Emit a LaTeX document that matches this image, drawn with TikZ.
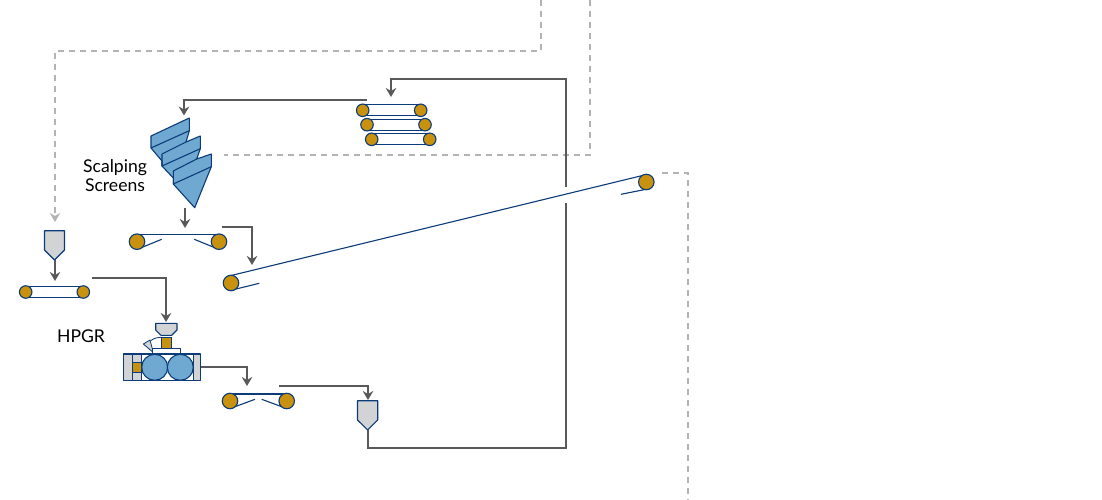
\documentclass[tikz,border=0pt]{standalone}
\usepackage{fontspec}
\setmainfont{Lato}
\usetikzlibrary{arrows.meta}
\definecolor{navy}{HTML}{0B3B78}
\definecolor{gold}{HTML}{C8920F}
\definecolor{skyb}{HTML}{6FA9D2}
\definecolor{binb}{HTML}{D2D3D5}
\definecolor{flow}{HTML}{58595B}
\definecolor{dash}{HTML}{B3B3B3}
\tikzset{
 flowline/.style={draw=flow,line width=2.1pt,-{Stealth[length=9pt,width=10.5pt,inset=3pt]}},
 flowplain/.style={draw=flow,line width=2.1pt},
 dashline/.style={draw=dash,line width=2.2pt,dash pattern=on 6pt off 5pt},
 dasharrow/.style={dashline,-{Stealth[length=9pt,width=10.5pt,inset=3pt]}},
 belt/.style={draw=navy,line width=1.1pt},
 roll/.style={circle,draw=navy,line width=1.1pt,fill=gold,inner sep=0pt},
 smallroll/.style={roll,minimum size=12.5pt},
 bigroll/.style={roll,minimum size=15.5pt},
 part/.style={draw=navy,line width=1.1pt,line join=round},
 label/.style={font=\fontsize{17.6}{19.5}\selectfont,align=center,text=black,inner sep=0pt},
}
\begin{document}
\begin{tikzpicture}[x=1pt,y=-1pt]
\useasboundingbox[fill=white] (0,0) rectangle (1102,500);

% free connector ends
\foreach \n/\x/\y in {d1a/541/0,d1b/541/51,d1c/55/51,d1d/55/222,
  d2a/590/0,d2b/590/155,d2c/224/155,
  d3a/662/173,d3b/688/173,d3c/688/500,
  fa/368/448,fb/566/448,fc/566/203,fd/566/187,fe/566/79,ff/391/79,fg/391/97,
  ga/367/100,gb/184/100,gc/184/115.5,
  ha/185/208,hb/185/228,
  ia/222/227,ib/252/227,ic/252/265,
  ja/92/278,jb/166/278,jc/166/322,
  ka/200.5/367,kb/247/367,kc/247/386,
  la/279/386,lb/368/386,lc/368/400,
  ma/55/260,mb/55/281}
  {\coordinate (\n) at (\x,\y);}

% dashed lines
\draw[dasharrow] (d1a) -- (d1b) -- (d1c) -- (d1d);
\draw[dashline] (d2a) -- (d2b) -- (d2c);
\draw[dashline] (d3a) -- (d3b) -- (d3c);

% flow lines
\draw[flowplain] (368,430) -- (fa) -- (fb) -- (fc);
\draw[flowline] (fd) -- (fe) -- (ff) -- (fg);
\draw[flowline] (ga) -- (gb) -- (gc);
\draw[flowline] (ha) -- (hb);
\draw[flowline] (ia) -- (ib) -- (ic);
\draw[flowline] (ja) -- (jb) -- (jc);
\draw[flowline] (ka) -- (kb) -- (kc);
\draw[flowline] (la) -- (lb) -- (lc);
\draw[flowline] (ma) -- (mb);

% top stacked conveyors
\foreach \a/\b/\y/\n in {362.7/420.7/110.3/t1,367/425/124.7/t2,371.7/429.7/139.3/t3}{
  \draw[belt] (\a,\y-5.6) -- (\b,\y-5.6) (\a,\y+5.6) -- (\b,\y+5.6);
  \node[smallroll] (\n l) at (\a,\y) {};
  \node[smallroll] (\n r) at (\b,\y) {};
}

% left conveyor
\draw[belt] (25.7,286.3) -- (83.3,286.3) (25.7,297.6) -- (83.3,297.6);
\node[smallroll] (cl) at (25.7,292) {};
\node[smallroll] (cr) at (83.3,292) {};

% screen conveyor
\draw[belt] (137,234.6) -- (219,234.6);
\draw[belt] (138.5,248.8) -- (161.7,239.3);
\draw[belt] (217.5,248.8) -- (194.3,239.3);
\node[bigroll] (sl) at (137,241.7) {};
\node[bigroll] (sr) at (219,241.7) {};

% long conveyor
\draw[belt] (229.5,275.9) -- (644.6,175);
\draw[belt] (232.8,289.8) -- (259.3,283.3);
\draw[belt] (621,194.3) -- (648,188.9);
\node[bigroll] (ll) at (231,283) {};
\node[bigroll] (lr) at (646.3,182) {};

% HPGR discharge conveyor
\draw[belt] (230,394) -- (286.7,394);
\draw[belt] (231.5,408) -- (255,399.3);
\draw[belt] (285.2,408) -- (261.7,399.3);
\node[bigroll] (hl) at (230,401) {};
\node[bigroll] (hr) at (286.7,401) {};

% bins
\draw[part,fill=binb] (44.5,230.7) -- (64.5,230.7) -- (64.5,250) -- (54.5,260) -- (44.5,250) -- cycle;
\draw[part,fill=binb] (357.5,400.7) -- (377.7,400.7) -- (377.7,420) -- (367.6,430) -- (357.5,420) -- cycle;

% scalping screens
\draw[part,fill=skyb] (151,136) -- (189.3,118) -- (189.3,130.7) -- (186,142) -- (200.3,136) -- (200.3,148.7) -- (196.7,159) -- (211.3,154) -- (211.3,166.7) -- (194.7,207.7) -- (173.3,184) -- (173.3,178) -- (162,166) -- (162,161) -- (151,148) -- cycle;
\draw[part] (151,148) -- (189.3,130.7);
\draw[part] (162,154) -- (186,142) (162,154) -- (162,166) -- (200.3,148.7);
\draw[part] (173.3,171) -- (196.7,159) (173.3,171) -- (173.3,184) -- (211.3,166.7);

% HPGR
\draw[part,fill=binb] (155.7,323.3) -- (177,323.3) -- (177,330) -- (171.7,335.3) -- (161,335.3) -- (155.7,330) -- cycle;
\draw[part,line width=0.8pt,fill=gold] (161.5,337.3) rectangle (171.5,348.3);
\draw[part,line width=0.8pt] (150.7,340.7) .. controls (154,338) and (158,337.3) .. (161.5,337.3);
\draw[part,line width=0.8pt,fill=binb] (143.3,344) -- (150,340) -- (153.3,352.5) -- cycle;
\draw[part,line width=0.8pt,fill=white] (152.7,348.3) rectangle (180.7,354);
\draw[part,fill=binb] (123.7,354) rectangle (200.3,380.3);
\fill[white] (141.7,354.5) rectangle (193.3,379.8);
\draw[part,line width=0.8pt] (132,354) -- (132,380.3) (141.7,354) -- (141.7,380.3) (193.3,354) -- (193.3,380.3);
\draw[part,line width=0.8pt,fill=gold] (132.3,362.7) rectangle (141.7,372.3);
\node[circle,draw=navy,line width=1.1pt,fill=skyb,inner sep=0pt,minimum size=26pt] (r1) at (154.7,367.3) {};
\node[circle,draw=navy,line width=1.1pt,fill=skyb,inner sep=0pt,minimum size=26pt] (r2) at (180.3,367.3) {};

% labels
\node[label] (scr) at (115,175.5) {Scalping\\Screens};
\node[label] (hpgr) at (81,336) {HPGR};
\end{tikzpicture}
\end{document}
